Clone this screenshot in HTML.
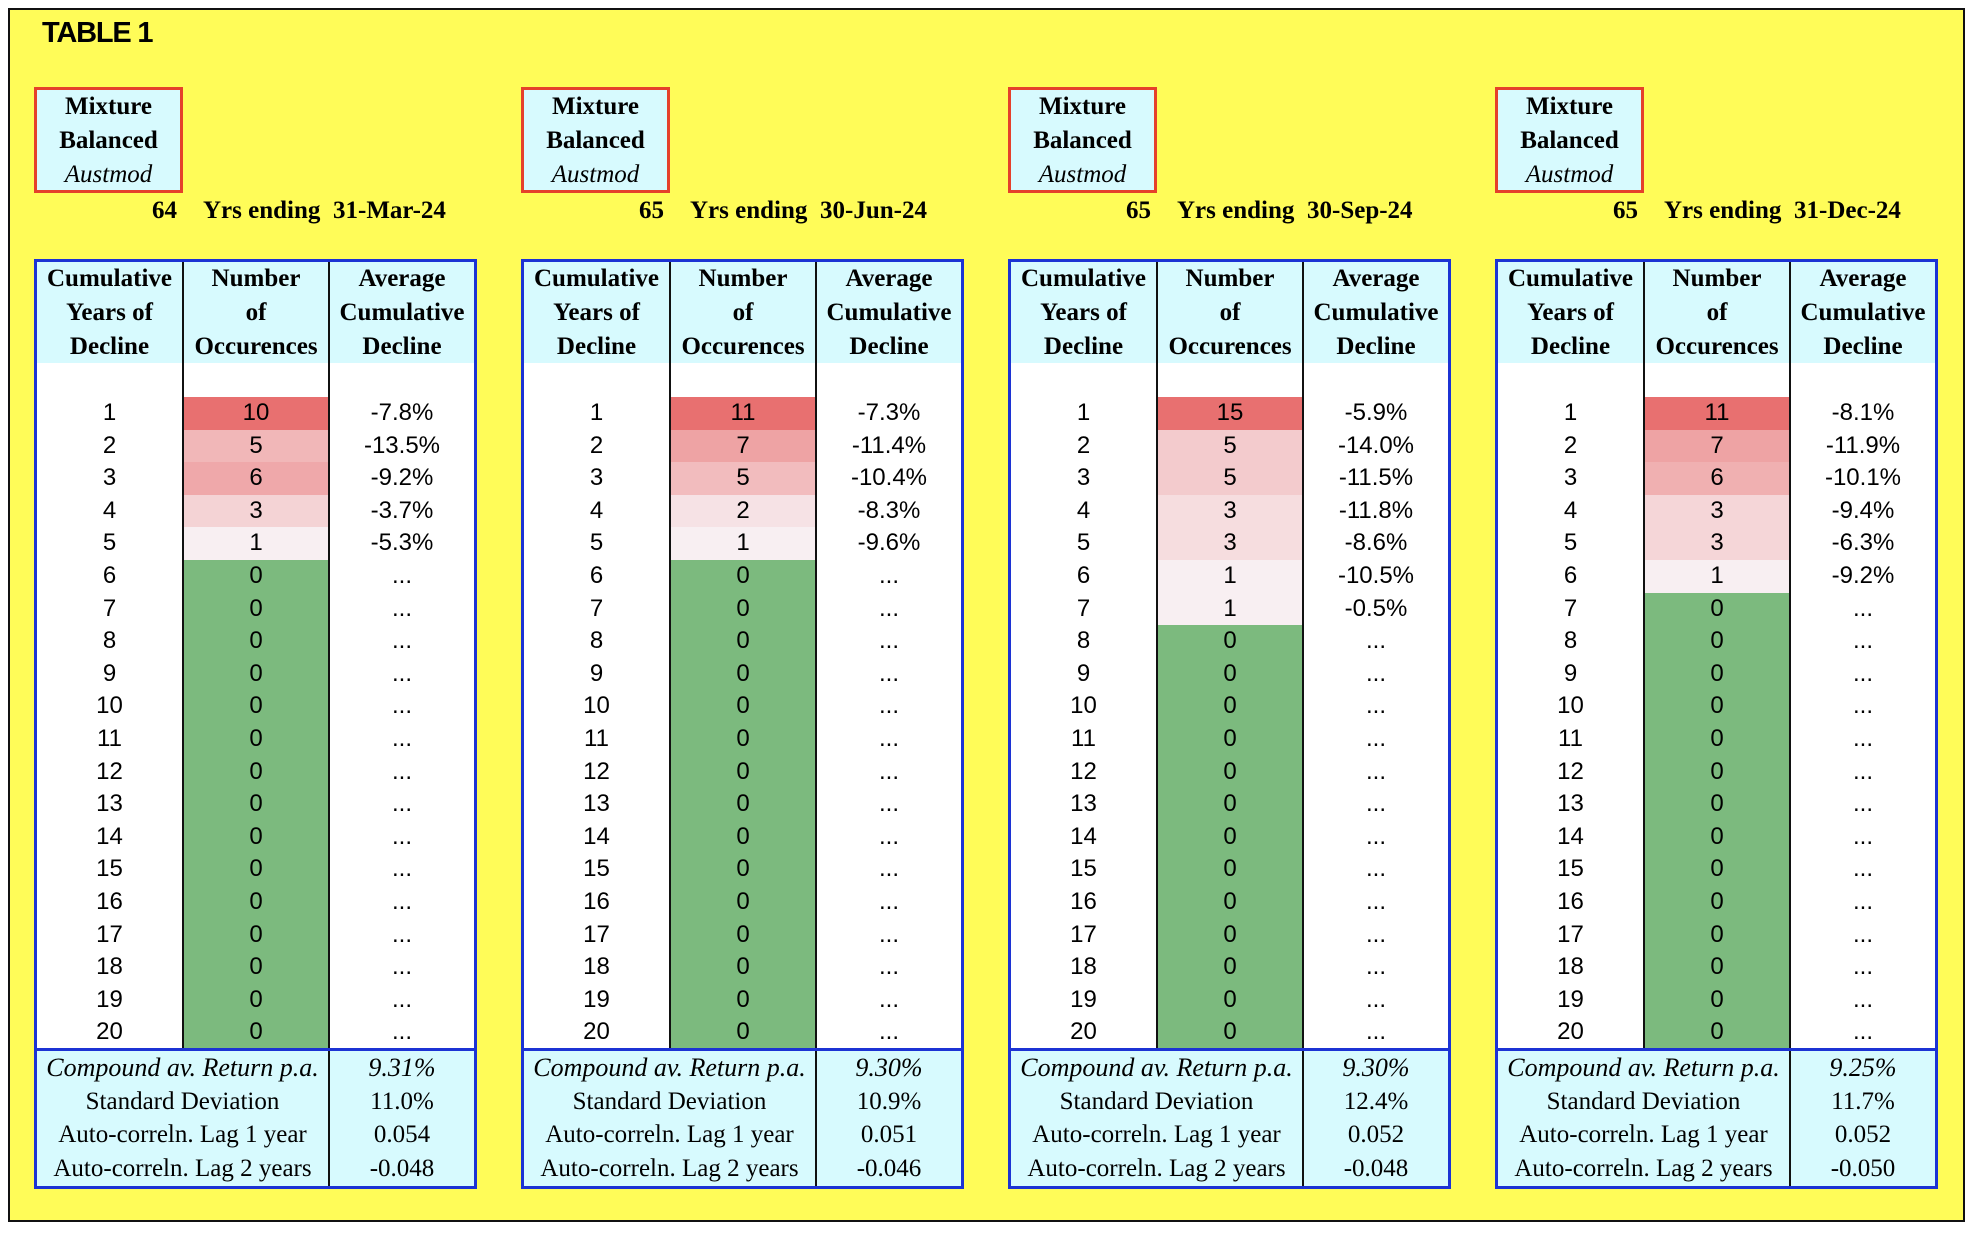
<!DOCTYPE html>
<html><head><meta charset="utf-8">
<style>
*{margin:0;padding:0;box-sizing:border-box}
html,body{width:1980px;height:1234px;background:#fff;overflow:hidden}
.frame{position:absolute;left:8px;top:8px;width:1957px;height:1214px;border:2px solid #111;background:#FFFC58}
.t1{position:absolute;left:42px;top:18px;font:bold 29px/31px "Liberation Sans",sans-serif;letter-spacing:-1.2px;color:#000}
.p{position:absolute;top:0;width:443px;height:1234px}
.box{position:absolute;left:0;top:87px;width:149px;height:106px;border:3px solid #E5402B;background:#D7FAFE;font:bold 25px/34px "Liberation Serif",serif;text-align:center;padding-top:0}
.box i{font-weight:normal}
.ln{position:absolute;top:196px;font:bold 25px/30px "Liberation Serif",serif;white-space:nowrap}
.tb{position:absolute;left:0;top:259px;width:443px;height:930px;border:3px solid #1C33D4;background:#fff}
.hd{position:absolute;left:0;top:0;width:437px;height:101px;background:#D7FAFE;display:grid;grid-template-columns:145px 144px 144px;column-gap:2px;font:bold 25px/34px "Liberation Serif",serif;text-align:center}
.d1,.d2{position:absolute;top:0;width:2px;background:#111}
.d1{left:145px;height:787px}
.d2{left:291px;height:924px}
.rows{position:absolute;left:0;top:135px;width:437px}
.r{height:32.6px;display:grid;grid-template-columns:145px 144px 144px;column-gap:2px;font:24px/32.6px "Liberation Sans",sans-serif;text-align:center}
.r span{display:block}
.g{background:#7CBA7E}
.bl{position:absolute;left:0;top:786px;width:437px;height:3px;background:#1C33D4;z-index:2}
.sm{position:absolute;left:0;top:789px;width:437px;height:135px;background:#D7FAFE}
.s{height:33.6px;display:grid;grid-template-columns:291px 144px;column-gap:2px;font:25px/33.6px "Liberation Serif",serif;text-align:center;white-space:nowrap}
.s.it{font-style:italic;font-size:26px}
</style></head><body>
<div class="frame"></div>
<div class="t1">TABLE 1</div>

<!-- Panel 1 -->
<div class="p" style="left:34px">
<div class="box">Mixture<br>Balanced<br><i>Austmod</i></div>
<div class="ln" style="left:118px">64</div><div class="ln" style="left:169px">Yrs ending</div><div class="ln" style="left:299px">31-Mar-24</div>
<div class="tb">
<div class="hd"><div>Cumulative<br>Years of<br>Decline</div><div>Number<br>of<br>Occurences</div><div>Average<br>Cumulative<br>Decline</div></div>
<div class="rows">
<div class="r"><span>1</span><span style="background:#E87070">10</span><span>-7.8%</span></div>
<div class="r"><span>2</span><span style="background:#F1B7B8">5</span><span>-13.5%</span></div>
<div class="r"><span>3</span><span style="background:#EFA8AA">6</span><span>-9.2%</span></div>
<div class="r"><span>4</span><span style="background:#F4D3D5">3</span><span>-3.7%</span></div>
<div class="r"><span>5</span><span style="background:#F8EFF2">1</span><span>-5.3%</span></div>
<div class="r"><span>6</span><span class="g">0</span><span>...</span></div>
<div class="r"><span>7</span><span class="g">0</span><span>...</span></div>
<div class="r"><span>8</span><span class="g">0</span><span>...</span></div>
<div class="r"><span>9</span><span class="g">0</span><span>...</span></div>
<div class="r"><span>10</span><span class="g">0</span><span>...</span></div>
<div class="r"><span>11</span><span class="g">0</span><span>...</span></div>
<div class="r"><span>12</span><span class="g">0</span><span>...</span></div>
<div class="r"><span>13</span><span class="g">0</span><span>...</span></div>
<div class="r"><span>14</span><span class="g">0</span><span>...</span></div>
<div class="r"><span>15</span><span class="g">0</span><span>...</span></div>
<div class="r"><span>16</span><span class="g">0</span><span>...</span></div>
<div class="r"><span>17</span><span class="g">0</span><span>...</span></div>
<div class="r"><span>18</span><span class="g">0</span><span>...</span></div>
<div class="r"><span>19</span><span class="g">0</span><span>...</span></div>
<div class="r"><span>20</span><span class="g">0</span><span>...</span></div>
</div>
<div class="sm">
<div class="s it"><span>Compound av. Return p.a.</span><span>9.31%</span></div>
<div class="s"><span>Standard Deviation</span><span>11.0%</span></div>
<div class="s"><span>Auto-correln. Lag 1 year</span><span>0.054</span></div>
<div class="s"><span>Auto-correln. Lag 2 years</span><span>-0.048</span></div>
</div>
<div class="d1"></div><div class="d2"></div><div class="bl"></div>
</div>
</div>

<!-- Panel 2 -->
<div class="p" style="left:521px">
<div class="box">Mixture<br>Balanced<br><i>Austmod</i></div>
<div class="ln" style="left:118px">65</div><div class="ln" style="left:169px">Yrs ending</div><div class="ln" style="left:299px">30-Jun-24</div>
<div class="tb">
<div class="hd"><div>Cumulative<br>Years of<br>Decline</div><div>Number<br>of<br>Occurences</div><div>Average<br>Cumulative<br>Decline</div></div>
<div class="rows">
<div class="r"><span>1</span><span style="background:#E87070">11</span><span>-7.3%</span></div>
<div class="r"><span>2</span><span style="background:#EEA3A4">7</span><span>-11.4%</span></div>
<div class="r"><span>3</span><span style="background:#F2BCBE">5</span><span>-10.4%</span></div>
<div class="r"><span>4</span><span style="background:#F6E2E5">2</span><span>-8.3%</span></div>
<div class="r"><span>5</span><span style="background:#F8EFF2">1</span><span>-9.6%</span></div>
<div class="r"><span>6</span><span class="g">0</span><span>...</span></div>
<div class="r"><span>7</span><span class="g">0</span><span>...</span></div>
<div class="r"><span>8</span><span class="g">0</span><span>...</span></div>
<div class="r"><span>9</span><span class="g">0</span><span>...</span></div>
<div class="r"><span>10</span><span class="g">0</span><span>...</span></div>
<div class="r"><span>11</span><span class="g">0</span><span>...</span></div>
<div class="r"><span>12</span><span class="g">0</span><span>...</span></div>
<div class="r"><span>13</span><span class="g">0</span><span>...</span></div>
<div class="r"><span>14</span><span class="g">0</span><span>...</span></div>
<div class="r"><span>15</span><span class="g">0</span><span>...</span></div>
<div class="r"><span>16</span><span class="g">0</span><span>...</span></div>
<div class="r"><span>17</span><span class="g">0</span><span>...</span></div>
<div class="r"><span>18</span><span class="g">0</span><span>...</span></div>
<div class="r"><span>19</span><span class="g">0</span><span>...</span></div>
<div class="r"><span>20</span><span class="g">0</span><span>...</span></div>
</div>
<div class="sm">
<div class="s it"><span>Compound av. Return p.a.</span><span>9.30%</span></div>
<div class="s"><span>Standard Deviation</span><span>10.9%</span></div>
<div class="s"><span>Auto-correln. Lag 1 year</span><span>0.051</span></div>
<div class="s"><span>Auto-correln. Lag 2 years</span><span>-0.046</span></div>
</div>
<div class="d1"></div><div class="d2"></div><div class="bl"></div>
</div>
</div>

<!-- Panel 3 -->
<div class="p" style="left:1008px">
<div class="box">Mixture<br>Balanced<br><i>Austmod</i></div>
<div class="ln" style="left:118px">65</div><div class="ln" style="left:169px">Yrs ending</div><div class="ln" style="left:299px">30-Sep-24</div>
<div class="tb">
<div class="hd"><div>Cumulative<br>Years of<br>Decline</div><div>Number<br>of<br>Occurences</div><div>Average<br>Cumulative<br>Decline</div></div>
<div class="rows">
<div class="r"><span>1</span><span style="background:#E87070">15</span><span>-5.9%</span></div>
<div class="r"><span>2</span><span style="background:#F3CBCD">5</span><span>-14.0%</span></div>
<div class="r"><span>3</span><span style="background:#F3CBCD">5</span><span>-11.5%</span></div>
<div class="r"><span>4</span><span style="background:#F6DDDF">3</span><span>-11.8%</span></div>
<div class="r"><span>5</span><span style="background:#F6DDDF">3</span><span>-8.6%</span></div>
<div class="r"><span>6</span><span style="background:#F8EFF2">1</span><span>-10.5%</span></div>
<div class="r"><span>7</span><span style="background:#F8EFF2">1</span><span>-0.5%</span></div>
<div class="r"><span>8</span><span class="g">0</span><span>...</span></div>
<div class="r"><span>9</span><span class="g">0</span><span>...</span></div>
<div class="r"><span>10</span><span class="g">0</span><span>...</span></div>
<div class="r"><span>11</span><span class="g">0</span><span>...</span></div>
<div class="r"><span>12</span><span class="g">0</span><span>...</span></div>
<div class="r"><span>13</span><span class="g">0</span><span>...</span></div>
<div class="r"><span>14</span><span class="g">0</span><span>...</span></div>
<div class="r"><span>15</span><span class="g">0</span><span>...</span></div>
<div class="r"><span>16</span><span class="g">0</span><span>...</span></div>
<div class="r"><span>17</span><span class="g">0</span><span>...</span></div>
<div class="r"><span>18</span><span class="g">0</span><span>...</span></div>
<div class="r"><span>19</span><span class="g">0</span><span>...</span></div>
<div class="r"><span>20</span><span class="g">0</span><span>...</span></div>
</div>
<div class="sm">
<div class="s it"><span>Compound av. Return p.a.</span><span>9.30%</span></div>
<div class="s"><span>Standard Deviation</span><span>12.4%</span></div>
<div class="s"><span>Auto-correln. Lag 1 year</span><span>0.052</span></div>
<div class="s"><span>Auto-correln. Lag 2 years</span><span>-0.048</span></div>
</div>
<div class="d1"></div><div class="d2"></div><div class="bl"></div>
</div>
</div>

<!-- Panel 4 -->
<div class="p" style="left:1495px">
<div class="box">Mixture<br>Balanced<br><i>Austmod</i></div>
<div class="ln" style="left:118px">65</div><div class="ln" style="left:169px">Yrs ending</div><div class="ln" style="left:299px">31-Dec-24</div>
<div class="tb">
<div class="hd"><div>Cumulative<br>Years of<br>Decline</div><div>Number<br>of<br>Occurences</div><div>Average<br>Cumulative<br>Decline</div></div>
<div class="rows">
<div class="r"><span>1</span><span style="background:#E87070">11</span><span>-8.1%</span></div>
<div class="r"><span>2</span><span style="background:#EEA3A4">7</span><span>-11.9%</span></div>
<div class="r"><span>3</span><span style="background:#F0B0B1">6</span><span>-10.1%</span></div>
<div class="r"><span>4</span><span style="background:#F5D6D8">3</span><span>-9.4%</span></div>
<div class="r"><span>5</span><span style="background:#F5D6D8">3</span><span>-6.3%</span></div>
<div class="r"><span>6</span><span style="background:#F8EFF2">1</span><span>-9.2%</span></div>
<div class="r"><span>7</span><span class="g">0</span><span>...</span></div>
<div class="r"><span>8</span><span class="g">0</span><span>...</span></div>
<div class="r"><span>9</span><span class="g">0</span><span>...</span></div>
<div class="r"><span>10</span><span class="g">0</span><span>...</span></div>
<div class="r"><span>11</span><span class="g">0</span><span>...</span></div>
<div class="r"><span>12</span><span class="g">0</span><span>...</span></div>
<div class="r"><span>13</span><span class="g">0</span><span>...</span></div>
<div class="r"><span>14</span><span class="g">0</span><span>...</span></div>
<div class="r"><span>15</span><span class="g">0</span><span>...</span></div>
<div class="r"><span>16</span><span class="g">0</span><span>...</span></div>
<div class="r"><span>17</span><span class="g">0</span><span>...</span></div>
<div class="r"><span>18</span><span class="g">0</span><span>...</span></div>
<div class="r"><span>19</span><span class="g">0</span><span>...</span></div>
<div class="r"><span>20</span><span class="g">0</span><span>...</span></div>
</div>
<div class="sm">
<div class="s it"><span>Compound av. Return p.a.</span><span>9.25%</span></div>
<div class="s"><span>Standard Deviation</span><span>11.7%</span></div>
<div class="s"><span>Auto-correln. Lag 1 year</span><span>0.052</span></div>
<div class="s"><span>Auto-correln. Lag 2 years</span><span>-0.050</span></div>
</div>
<div class="d1"></div><div class="d2"></div><div class="bl"></div>
</div>
</div>
</body></html>
